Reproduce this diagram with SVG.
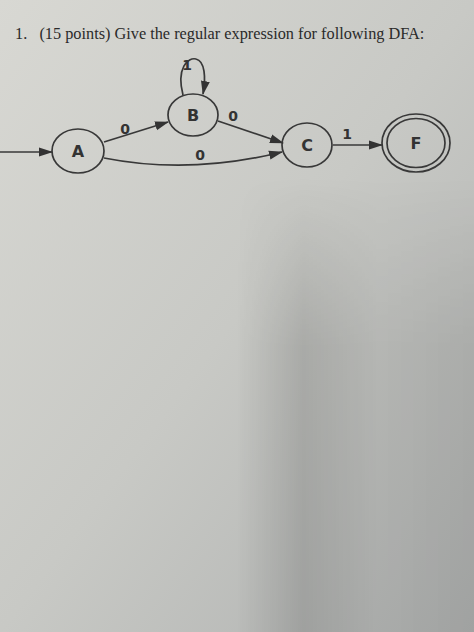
<svg xmlns="http://www.w3.org/2000/svg" width="474" height="632" viewBox="0 0 474 632">
<defs>
<linearGradient id="paper" x1="0" y1="0" x2="1" y2="1">
<stop offset="0" stop-color="#d8d8d3"/>
<stop offset="0.5" stop-color="#c8c9c5"/>
<stop offset="1" stop-color="#aeb0af"/>
</linearGradient>
<linearGradient id="shade" x1="0" y1="0" x2="1" y2="0">
<stop offset="0" stop-color="#000" stop-opacity="0"/>
<stop offset="0.5" stop-color="#000" stop-opacity="0"/>
<stop offset="0.64" stop-color="#000" stop-opacity="0.13"/>
<stop offset="0.8" stop-color="#000" stop-opacity="0.05"/>
<stop offset="1" stop-color="#000" stop-opacity="0.08"/>
</linearGradient>
<linearGradient id="fadeV" x1="0" y1="0" x2="0" y2="1">
<stop offset="0" stop-color="#000"/>
<stop offset="0.28" stop-color="#000"/>
<stop offset="0.55" stop-color="#fff"/>
<stop offset="1" stop-color="#fff"/>
</linearGradient>
<mask id="m"><rect width="474" height="632" fill="url(#fadeV)"/></mask>
<marker id="ah" viewBox="0 0 14 10" refX="13" refY="5" markerWidth="14" markerHeight="10" orient="auto" markerUnits="userSpaceOnUse">
<path d="M0,0.5 L14,5 L0,9.5 z" fill="#333"/>
</marker>
<style>
.st{fill:none;stroke:#383838;stroke-width:1.7}
.ed{fill:none;stroke:#383838;stroke-width:1.7;marker-end:url(#ah)}
.lb{font-family:"DejaVu Sans",sans-serif;font-weight:bold;fill:#333;text-anchor:middle}
.nm{font-size:16px}
.dg{font-size:14px}
</style>
</defs>
<rect width="474" height="632" fill="url(#paper)"/>
<rect width="474" height="632" fill="url(#shade)" mask="url(#m)"/>
<text x="15" y="39" font-family="Liberation Serif, serif" font-size="16.3" fill="#2a2a2a" xml:space="preserve">1.   (15 points) Give the regular expression for following DFA:</text>
<g id="connectors">
<line class="ed" x1="0" y1="152" x2="52" y2="152"/>
<path class="ed" d="M104,142 L168,122"/>
<path class="ed" d="M104,158 Q190,175 282,152"/>
<path class="ed" d="M218,121 L283,143"/>
<path class="ed" d="M183,95 C176,68 188,57 196,59 C205,61 206,78 203,94"/>
<line class="ed" x1="333" y1="145" x2="382" y2="145"/>
<text class="lb dg" x="125" y="134">0</text>
<text class="lb dg" x="200" y="160">0</text>
<text class="lb dg" x="233" y="121">0</text>
<text class="lb dg" x="187" y="70">1</text>
<text class="lb dg" x="347" y="139">1</text>
</g>
<g id="A"><ellipse class="st" cx="78" cy="151" rx="26" ry="22"/><text class="lb nm" x="78" y="157">A</text></g>
<g id="B"><ellipse class="st" cx="193" cy="115" rx="25" ry="21"/><text class="lb nm" x="193" y="121">B</text></g>
<g id="C"><ellipse class="st" cx="307" cy="145" rx="25" ry="22"/><text class="lb nm" x="307" y="151">C</text></g>
<g id="F"><ellipse class="st" cx="416" cy="143" rx="34" ry="29"/><ellipse class="st" cx="416" cy="143" rx="29" ry="24.5"/><text class="lb nm" x="416" y="149">F</text></g>
</svg>
